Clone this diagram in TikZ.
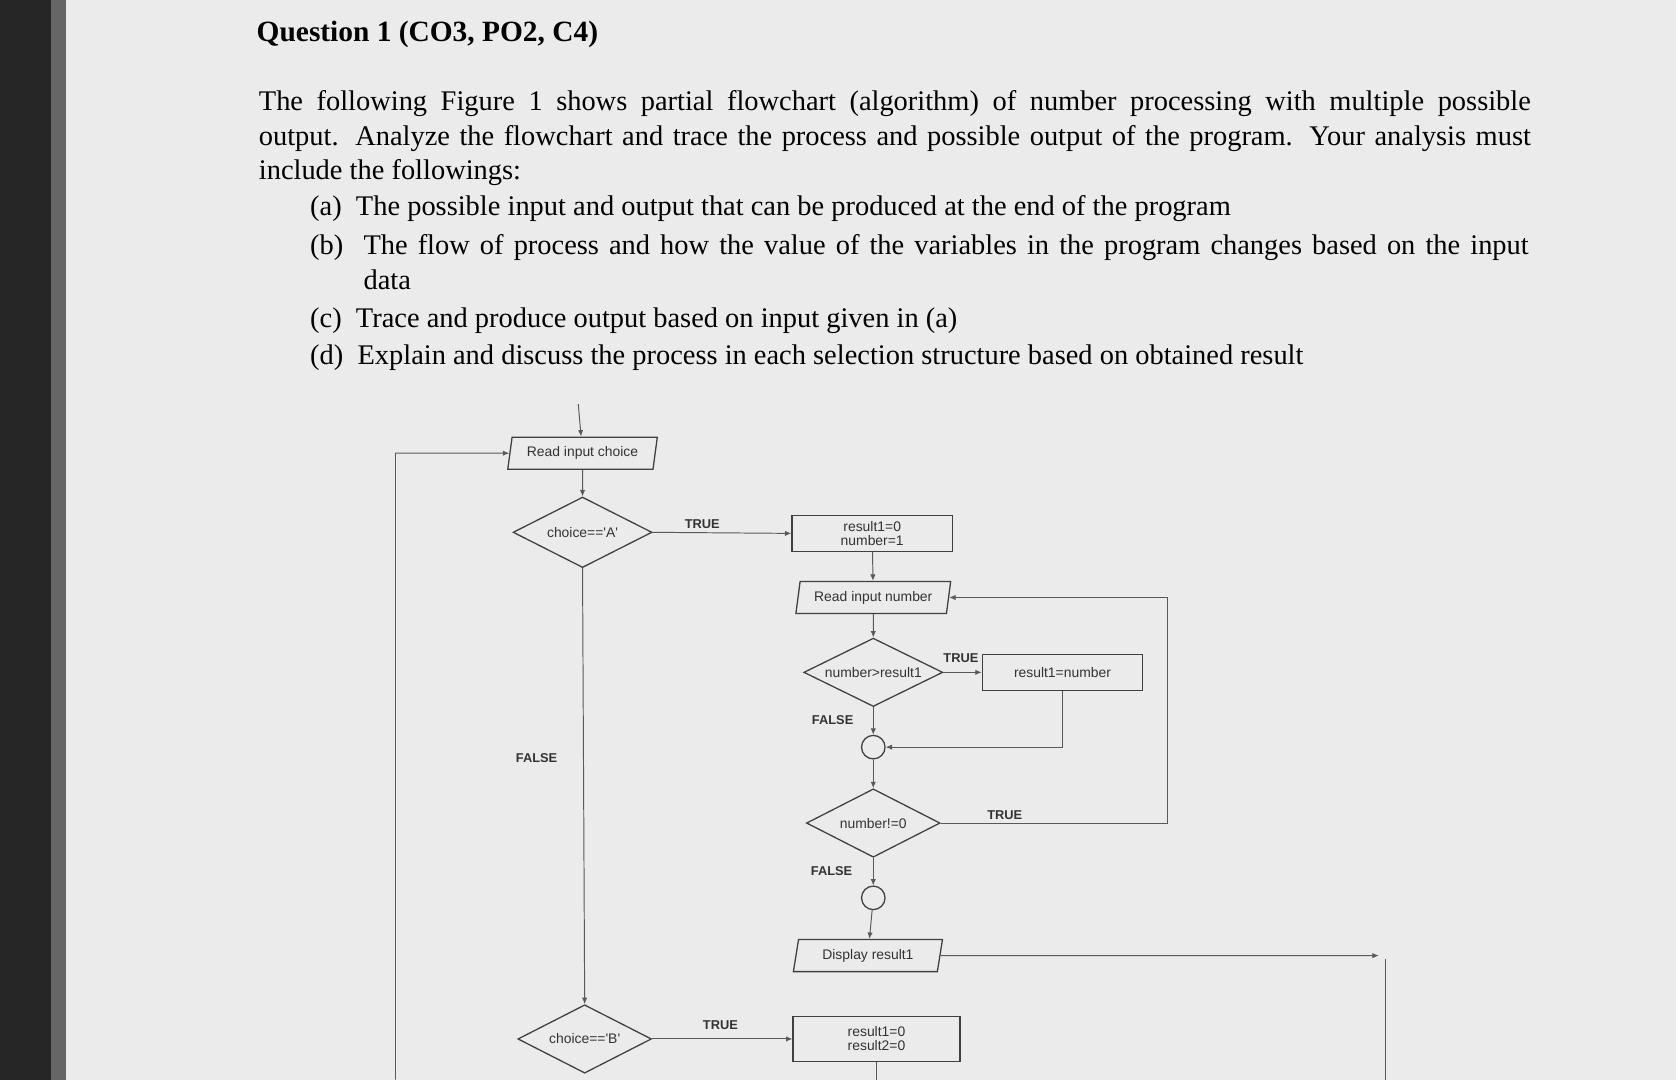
\documentclass[tikz,border=0pt]{standalone}
\usepackage{fontspec}
\setmainfont{Liberation Serif}
\newfontfamily\fsans{Liberation Sans}
\usetikzlibrary{shapes.geometric,arrows.meta}
\begin{document}
\begin{tikzpicture}[x=1pt,y=-1pt,
  txt/.style={anchor=base west,inner sep=0,font=\fontsize{26.6}{30}\selectfont},
  fc/.style={font=\fsans\fontsize{13}{15}\selectfont,text=black!80},
  io/.style={fc,draw=black!75,line width=1.2pt,trapezium,trapezium left angle=80,trapezium right angle=100,minimum height=30,inner xsep=2,trapezium stretches=true},
  box/.style={fc,draw=black!75,line width=1.2pt,rectangle,align=center,inner sep=2,minimum height=34},
  dia/.style={fc,draw=black!75,line width=1.2pt,diamond,aspect=2,inner sep=1},
  cir/.style={draw=black!75,line width=1.2pt,circle,minimum size=22,inner sep=0},
  lab/.style={fc,font=\fsans\bfseries\fontsize{12}{14}\selectfont},
  ln/.style={draw=black!65,line width=0.9pt},
  ar/.style={ln,-{Latex[length=6,width=5]}}]
\useasboundingbox (0,0) rectangle (1568,1010);
\fill[black!8] (0,0) rectangle (1568,1010);
\fill[black!85] (0,0) rectangle (48,1010);
\fill[black!60] (48,0) rectangle (62,1010);
\node[txt,font=\bfseries\fontsize{27.5}{30}\selectfont] (t0) at (240,39) {Question 1 (CO3, PO2, C4)};
\node[txt] (t1) at (242,103) {\makebox[1190pt][s]{The following Figure 1 shows partial flowchart (algorithm) of number processing with multiple possible}};
\node[txt] (t2) at (242,136) {\makebox[1190pt][s]{output. Analyze the flowchart and trace the process and possible output of the program. Your analysis must}};
\node[txt] (t3) at (242,168) {include the followings:};
\node[txt] (t4) at (290,202) {(a)\ \ The possible input and output that can be produced at the end of the program};
\node[txt] (t5) at (290,238) {\makebox[1140pt][s]{(b)\ \ The flow of process and how the value of the variables in the program changes based on the input}};
\node[txt] (t6) at (340,271) {data};
\node[txt] (t7) at (290,306) {(c)\ \ Trace and produce output based on input given in (a)};
\node[txt] (t8) at (290,341) {(d)\ \ Explain and discuss the process in each selection structure based on obtained result};

\node[io,minimum width=140] (rc) at (545,424) {Read input choice};
\node[dia,minimum width=130,minimum height=66] (da) at (545,498) {choice=='A'};
\node[box,minimum width=150] (b1) at (816,499) {result1=0\\[-2pt]number=1};
\node[io,minimum width=145] (rn) at (817,559) {Read input number};
\node[dia,minimum width=130,minimum height=64] (d2) at (817,629) {number>result1};
\node[box,minimum width=150] (b2) at (994,629) {result1=number};
\node[cir] (c1) at (817,699) {};
\node[dia,minimum width=125,minimum height=64] (d3) at (817,770) {number!=0};
\node[cir] (c2) at (817,840) {};
\node[io,minimum width=140] (dr) at (812,894) {Display result1};
\node[dia,minimum width=125,minimum height=64] (db) at (547,972) {choice=='B'};
\node[box,minimum width=156,minimum height=42] (b3) at (820,972) {result1=0\\[-2pt]result2=0};
\coordinate (s0) at (541,378);
\coordinate (lp0) at (370,1010);
\coordinate (lp1) at (370,424);
\coordinate (e1) at (1290,894);
\coordinate (e2) at (1296,897);
\coordinate (e3) at (1296,1010);
\coordinate (e4) at (820,1010);

\draw[ar] (s0) -- (rc);
\draw[ar] (lp0) -- (lp1) -- (rc.west);
\draw[ar] (rc) -- (da);
\draw[ar] (da.east) -- (b1.west);
\node[lab] (l1) at (657,490) {TRUE};
\draw[ar] (da.south) -- (db.north);
\node[lab] (l2) at (502,709) {FALSE};
\draw[ar] (db.east) -- (b3.west);
\node[lab] (l3) at (674,959) {TRUE};
\draw[ar] (b1) -- (rn);
\draw[ar] (rn) -- (d2);
\draw[ar] (d2.east) -- (b2.west);
\node[lab] (l4) at (899,616) {TRUE};
\draw[ar] (b2.south) |- (c1.east);
\draw[ar] (d2.south) -- (c1.north);
\node[lab] (l5) at (779,674) {FALSE};
\draw[ar] (c1) -- (d3);
\draw[ar] (d3.east) -- (1092,770) |- (rn.east);
\node[lab] (l6) at (940,763) {TRUE};
\draw[ar] (d3.south) -- (c2.north);
\node[lab] (l7) at (778,815) {FALSE};
\draw[ar] (c2) -- (dr);
\draw[ar] (dr.east) -- (e1);
\draw[ln] (e2) -- (e3);
\draw[ln] (b3.south) -- (e4);
\end{tikzpicture}
\end{document}
